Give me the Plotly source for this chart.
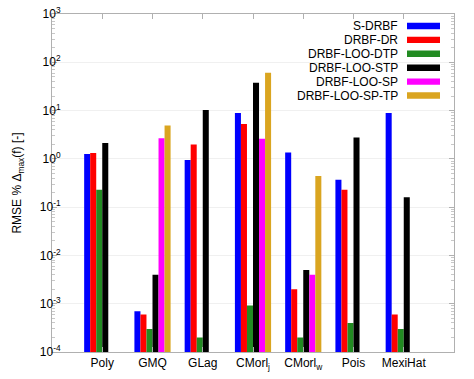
import plotly.graph_objects as go

categories = ["Poly", "GMQ", "GLag", "CMorl<sub>j</sub>", "CMorl<sub>w</sub>", "Pois", "MexiHat"]
series_names = ["S-DRBF", "DRBF-DR", "DRBF-LOO-DTP", "DRBF-LOO-STP", "DRBF-LOO-SP", "DRBF-LOO-SP-TP"]
colors = ["#0000ff", "#ff0000", "#228b22", "#000000", "#ff00ff", "#daa520"]

s_drbf = [1.26, 7.0e-4, 0.95, 8.9, 1.35, 0.37, 8.9]
drbf_dr = [1.33, 6.0e-4, 1.98, 5.3, 2.0e-3, 0.23, 6.0e-4]
drbf_loo_dtp = [0.23, 3.0e-4, 2.0e-4, 9.2e-4, 2.0e-4, 4.0e-4, 3.0e-4]
drbf_loo_stp = [2.14, 4.0e-3, 10.3, 37.5, 5.0e-3, 2.76, 0.16]
drbf_loo_sp = [None, 2.67, None, 2.6, 4.0e-3, None, None]
drbf_loo_sp_tp = [None, 4.9, None, 61.0, 0.44, None, None]

series_values = [s_drbf, drbf_dr, drbf_loo_dtp, drbf_loo_stp, drbf_loo_sp, drbf_loo_sp_tp]

y_exponents = [-4, -3, -2, -1, 0, 1, 2, 3]
y_tickvals = [10.0 ** e for e in y_exponents]
y_ticktext = ["10<sup>%d</sup>" % e for e in y_exponents]

FONT = "Liberation Sans, Arial, sans-serif"

fig = go.Figure()
for name, vals, col in zip(series_names, series_values, colors):
    fig.add_trace(go.Bar(
        x=categories, y=vals, name=name,
        marker=dict(color=col, line=dict(width=0)),
        showlegend=False,
    ))

# manual legend (text on the left, swatch on the right)
x0, x1 = 52, 454
y0, y1 = 14, 352
W, H = x1 - x0, y1 - y0
for i, (name, col) in enumerate(zip(series_names, colors)):
    yc = 26 + i * 13.9
    yp = 1 - (yc - y0) / H
    fig.add_annotation(
        x=(400 - x0) / W, y=yp, xref="paper", yref="paper",
        text=name, showarrow=False, xanchor="right", yanchor="middle",
        font=dict(family=FONT, size=12, color="#000000"),
    )
    fig.add_shape(
        type="rect", xref="paper", yref="paper",
        x0=(407 - x0) / W, x1=(440 - x0) / W,
        y0=yp - 3.2 / H, y1=yp + 3.2 / H,
        fillcolor=col, line=dict(width=0),
    )

fig.update_layout(
    width=474, height=379,
    margin=dict(l=52, r=20, t=14, b=27, autoexpand=False),
    paper_bgcolor="white", plot_bgcolor="white",
    barmode="group", bargap=0.28, bargroupgap=0,
    font=dict(family=FONT, size=12, color="#000000"),
)
fig.update_xaxes(
    type="category", range=[-1, 7], automargin=False,
    showline=True, linecolor="#b0b0b0", linewidth=1, mirror="ticks",
    ticks="inside", ticklen=5, tickcolor="#b0b0b0",
    showgrid=False, tickfont=dict(size=12),
)
fig.update_yaxes(
    type="log", range=[-4, 3], automargin=False,
    tickmode="array", tickvals=y_tickvals, ticktext=y_ticktext,
    showline=True, linecolor="#b0b0b0", linewidth=1, mirror="ticks",
    ticks="inside", ticklen=5, tickcolor="#b0b0b0",
    ticklabelstandoff=-12,
    minor=dict(ticks="inside", ticklen=3, tickcolor="#c8c8c8", showgrid=False,
               tickmode="array",
               tickvals=[m * 10.0 ** e for e in y_exponents[:-1] for m in range(2, 10)]),
    showgrid=True, gridcolor="#f0f0f0",
    tickfont=dict(size=12),
    title=dict(text="RMSE % Δ<sub>max</sub>(f) [-]", font=dict(size=12)),
)
fig.write_html("out.html", config={"displayModeBar": False},
               post_script="document.body.style.margin='0';")
